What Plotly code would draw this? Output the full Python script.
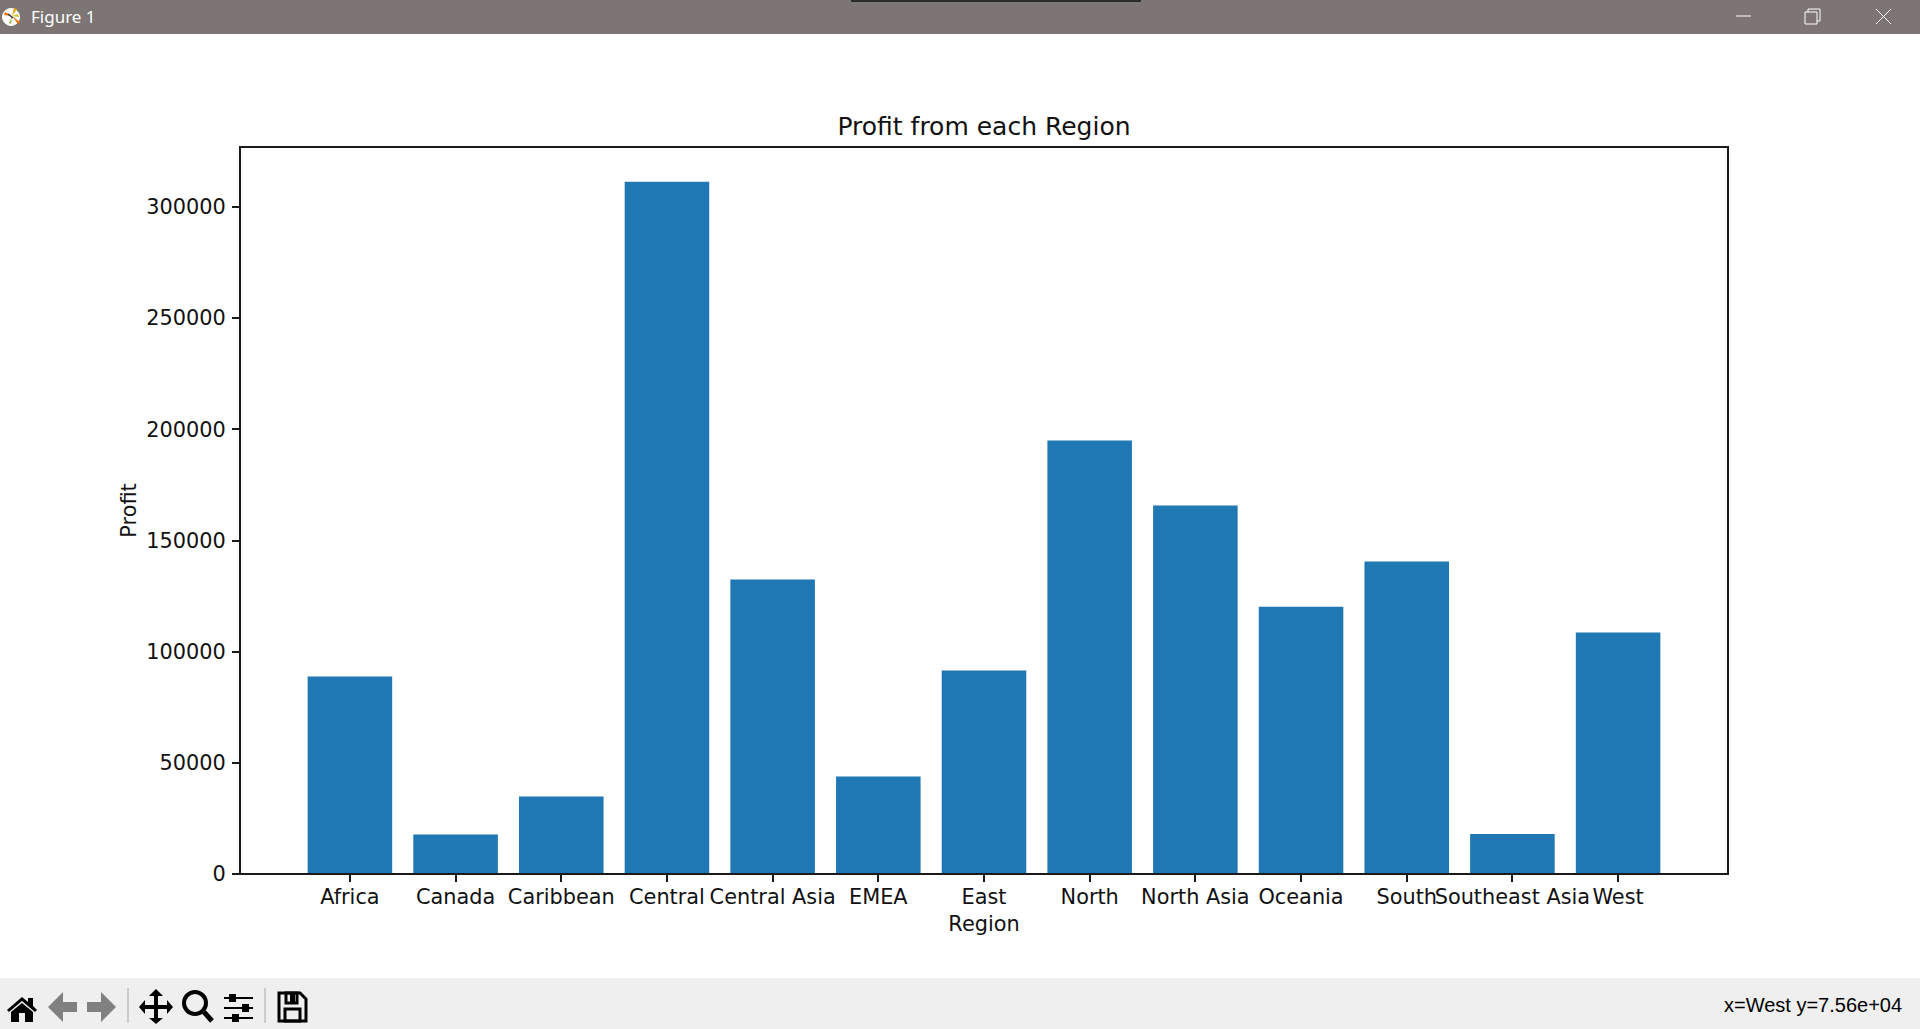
import plotly.graph_objects as go

regions = ["Africa", "Canada", "Caribbean", "Central", "Central Asia", "EMEA", "East",
           "North", "North Asia", "Oceania", "South", "Southeast Asia", "West"]
profit = [88800, 17800, 34900, 311400, 132500, 43900, 91500,
          195000, 165800, 120200, 140600, 18000, 108600]
y_ticks = [0, 50000, 100000, 150000, 200000, 250000, 300000]

W, H = 1920, 1029
L, R, T, B = 240, 1728, 147, 874
BLUE = "#1f77b4"
DPI_PT = 150 / 72
FONT = "DejaVu Sans"


def px(x):
    return (x - L) / (R - L)


def py(y):
    return (B - y) / (B - T)


def poly(points, fill="black", line=None, width=0):
    d = "M " + " L ".join(f"{px(x):.5f},{py(y):.5f}" for x, y in points) + " Z"
    return dict(type="path", path=d, xref="paper", yref="paper", fillcolor=fill,
                line=dict(color=line or fill, width=width), layer="above")


def rect(x0, y0, x1, y1, fill="black", line=None, width=0):
    return dict(type="rect", xref="paper", yref="paper", x0=px(x0), x1=px(x1), y0=py(y0), y1=py(y1),
                fillcolor=fill, line=dict(color=line or fill, width=width), layer="above")


def seg(x0, y0, x1, y1, color="black", width=2):
    return dict(type="line", xref="paper", yref="paper", x0=px(x0), x1=px(x1), y0=py(y0), y1=py(y1),
                line=dict(color=color, width=width), layer="above")


def circ(x, y, r, fill="rgba(0,0,0,0)", line="black", width=4):
    return dict(type="circle", xref="paper", yref="paper", x0=px(x - r), x1=px(x + r), y0=py(y - r), y1=py(y + r),
                fillcolor=fill, line=dict(color=line, width=width), layer="above")


shapes = [
    # axes frame
    dict(type="rect", xref="paper", yref="paper", x0=0, x1=1, y0=0, y1=1, fillcolor="rgba(0,0,0,0)",
         line=dict(color="#1a1a1a", width=2), layer="above"),
    # window title bar
    rect(0, 0, W, 34, "#7c7574"),
    rect(851, 0, 1141, 2, "#2b2b2b"),
    circ(11, 17, 8.5, "white", "white", 1),
    poly([(12, 16), (20, 22), (18, 24)], "#e8710a"),
    poly([(12, 16), (5, 12), (4, 15)], "#e8710a"),
    poly([(12, 16), (14, 8), (17, 9)], "#e8a00a"),
    poly([(12, 17), (9, 23), (11, 24)], "#8fb339"),
    poly([(12, 16), (18, 14), (19, 17)], "#c9c227"),
    seg(8, 14, 13, 18, "#2e2e2e", 1.5),
    seg(1736, 16, 1751, 16, "white", 1),
    rect(1805, 12, 1817, 24, "rgba(0,0,0,0)", "white", 1),
    seg(1808, 12, 1808, 9, "white", 1), seg(1808, 9, 1820, 9, "white", 1),
    seg(1820, 9, 1820, 21, "white", 1), seg(1820, 21, 1817, 21, "white", 1),
    seg(1876, 9, 1891, 24, "white", 1), seg(1891, 9, 1876, 24, "white", 1),
    # toolbar
    rect(0, 978, W, H, "#efefef"),
    seg(128, 988, 128, 1023, "#a8a8a8", 1), seg(265, 988, 265, 1023, "#a8a8a8", 1),
    # home
    poly([(7, 1010), (22, 997), (28, 1002), (28, 998), (33, 998), (33, 1006), (37, 1010), (35, 1012),
          (22, 1001), (9, 1012)]),
    poly([(11, 1012), (22, 1003), (33, 1012), (33, 1022), (25, 1022), (25, 1013), (19, 1013), (19, 1022), (11, 1022)]),
    # back / forward
    poly([(48, 1007), (63, 992), (63, 1002), (77, 1002), (77, 1012), (63, 1012), (63, 1022)], "#808080"),
    poly([(116, 1007), (101, 992), (101, 1002), (87, 1002), (87, 1012), (101, 1012), (101, 1022)], "#808080"),
    # pan
    poly([(156, 989), (163, 996), (158, 996), (158, 1005), (167, 1005), (167, 1000), (173, 1007), (167, 1014),
          (167, 1009), (158, 1009), (158, 1018), (163, 1018), (156, 1024), (149, 1018), (154, 1018), (154, 1009),
          (145, 1009), (145, 1014), (139, 1007), (145, 1000), (145, 1005), (154, 1005), (154, 996), (149, 996)]),
    # zoom
    circ(195, 1003, 11, width=4), seg(204, 1012, 212, 1021, "black", 5),
    # sliders
    seg(224, 998, 253, 998), seg(224, 1008, 253, 1008), seg(224, 1018, 253, 1018),
    rect(229, 994, 236, 1002), rect(242, 1004, 249, 1012), rect(232, 1014, 239, 1022),
    # save
    poly([(279, 993), (300, 993), (306, 999), (306, 1021), (279, 1021)], "rgba(0,0,0,0)", "black", 3),
    rect(286, 993, 297, 1003, "rgba(0,0,0,0)", "black", 3),
    rect(290, 994, 295, 1002, "black"),
    rect(285, 1009, 300, 1021, "rgba(0,0,0,0)", "black", 3),
]

annotations = [
    dict(text="Figure 1", xref="paper", yref="paper", x=px(29), y=py(17), xanchor="left", yanchor="middle",
         showarrow=False, font=dict(family="Noto Sans", size=17, color="white")),
    dict(text="x=West y=7.56e+04", xref="paper", yref="paper", x=px(1904), y=py(1005), xanchor="right",
         yanchor="middle", showarrow=False, font=dict(family="Liberation Sans", size=20, color="black")),
]

fig = go.Figure(go.Bar(x=regions, y=profit, width=0.8, marker=dict(color=BLUE, line=dict(width=0))))

axis_common = dict(showgrid=False, zeroline=False, showline=False,
                   ticks="outside", ticklen=7, tickwidth=2, tickcolor="#1a1a1a",
                   tickfont=dict(family=FONT, size=10 * DPI_PT, color="#111111"))

fig.update_layout(
    width=W, height=H, autosize=False,
    margin=dict(l=L, r=W - R, t=T, b=H - B, pad=0),
    paper_bgcolor="white", plot_bgcolor="white", showlegend=False, bargap=0.2,
    font=dict(family=FONT, color="black"),
    title=dict(text="Profit from each Region", x=0.5, xref="paper", xanchor="center", y=1, yref="paper",
               yanchor="bottom", pad=dict(b=12), font=dict(family=FONT, size=12 * DPI_PT, color="#111111")),
    xaxis=dict(type="category", categoryorder="array", categoryarray=regions, range=[-1.04, 13.04],
               tickmode="array", tickvals=regions, ticktext=regions, tickangle=0, ticklabelstandoff=-3,
               title=dict(text="Region", standoff=8, font=dict(family=FONT, size=10 * DPI_PT, color="#111111")),
               **axis_common),
    yaxis=dict(range=[0, 327000], tickmode="array", tickvals=y_ticks, ticktext=[str(v) for v in y_ticks],
               ticklabelstandoff=2,
               title=dict(text="Profit", standoff=4, font=dict(family=FONT, size=10 * DPI_PT, color="#111111")),
               **axis_common),
    shapes=shapes, annotations=annotations,
)

fig.write_html("out.html", config=dict(displayModeBar=False),
               post_script="document.body.style.margin='0';document.body.style.overflow='hidden';")
